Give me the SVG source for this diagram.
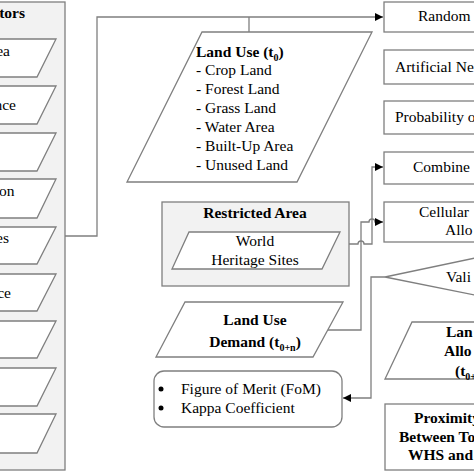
<svg xmlns="http://www.w3.org/2000/svg" width="474" height="474" viewBox="0 0 474 474">
<style>
.t{font-family:"Liberation Serif","Times New Roman",serif;font-size:15.5px;fill:#000}
.b{font-weight:bold}
.sub{font-size:10px}
.box{fill:#fff;stroke:#7f7f7f;stroke-width:1.3}
.panel{fill:#f2f2f2;stroke:#7f7f7f;stroke-width:1.3}
.c{fill:none;stroke:#7f7f7f;stroke-width:1.3}
</style>
<defs>
<marker id="ah" viewBox="0 0 10 10" refX="10" refY="5" markerWidth="8" markerHeight="8" markerUnits="userSpaceOnUse" orient="auto">
<path d="M0,0 L10,5 L0,10 z" fill="#000"/>
</marker>
</defs>

<g id="factors">
<rect class="panel" x="-10" y="2" width="75" height="468"/>
<text class="t b" x="25" y="18" text-anchor="end" font-size="16">tors</text>
<polygon class="box" points="-40,39 56,39 37,77 -60,77"/>
<text class="t" x="10" y="56" text-anchor="end">ea</text>
<polygon class="box" points="-40,86 56,86 37,124 -60,124"/>
<text class="t" x="16" y="110" text-anchor="end">nce</text>
<polygon class="box" points="-40,133 56,133 37,171 -60,171"/>
<polygon class="box" points="-40,179 56,179 37,218 -60,218"/>
<text class="t" x="14.5" y="196" text-anchor="end">on</text>
<polygon class="box" points="-40,227 56,227 37,264 -60,264"/>
<text class="t" x="9" y="243" text-anchor="end">es</text>
<polygon class="box" points="-40,274 56,274 37,311 -60,311"/>
<text class="t" x="11" y="298" text-anchor="end">ce</text>
<polygon class="box" points="-40,321 56,321 37,358 -60,358"/>
<polygon class="box" points="-40,368 56,368 37,406 -60,406"/>
<polygon class="box" points="-40,414 56,414 37,453 -60,453"/>
</g>

<g id="connectors">
<path class="c" d="M65,236 H97 V17 H383" marker-end="url(#ah)"/>
<path class="c" d="M249,17 V32"/>
<path class="c" d="M349,244 H358 A3,3 0 0 1 364,244 H372 V167 H383" marker-end="url(#ah)"/>
<path class="c" d="M328,330 H361 V222 H369 A3,3 0 0 1 375,222 H383" marker-end="url(#ah)"/>
<path class="c" d="M385,277 H371 V398 H343" marker-end="url(#ah)"/>
</g>

<g id="landuse">
<polygon class="box" points="202,32 372,32 297,182 127,182"/>
<text class="t b" x="196" y="57">Land Use (t<tspan class="sub" dy="4">0</tspan><tspan dy="-4">)</tspan></text>
<text class="t" x="196" y="75">- Crop Land</text>
<text class="t" x="196" y="94">- Forest Land</text>
<text class="t" x="196" y="113">- Grass Land</text>
<text class="t" x="196" y="132">- Water Area</text>
<text class="t" x="196" y="151">- Built-Up Area</text>
<text class="t" x="196" y="170">- Unused Land</text>
</g>

<g id="restricted">
<rect class="panel" x="162" y="202" width="187" height="84"/>
<text class="t b" x="255" y="218" text-anchor="middle">Restricted Area</text>
<polygon class="box" points="189,232 340,232 322,269 172,269"/>
<text class="t" x="255" y="246" text-anchor="middle">World</text>
<text class="t" x="255" y="265" text-anchor="middle">Heritage Sites</text>
</g>

<g id="demand">
<polygon class="box" points="185,302 343,302 313,357 156,357"/>
<text class="t b" x="255" y="325" text-anchor="middle">Land Use</text>
<text class="t b" x="255" y="347" text-anchor="middle">Demand (t<tspan class="sub" dy="4">0+n</tspan><tspan dy="-4">)</tspan></text>
</g>

<g id="metrics">
<rect class="box" x="154" y="371" width="188" height="56" rx="10"/>
<circle cx="161" cy="389" r="2.5" fill="#000"/>
<circle cx="161" cy="408" r="2.5" fill="#000"/>
<text class="t" x="181" y="394">Figure of Merit (FoM)</text>
<text class="t" x="181" y="413">Kappa Coefficient</text>
</g>

<g id="random">
<rect class="box" x="384" y="2" width="100" height="30"/>
<text class="t" x="418" y="21">Random</text>
</g>
<g id="ann">
<rect class="box" x="384" y="50" width="100" height="34"/>
<text class="t" x="395" y="72">Artificial Ne</text>
</g>
<g id="probability">
<rect class="box" x="384" y="101" width="100" height="33"/>
<text class="t" x="395" y="122">Probability o</text>
</g>
<g id="combine">
<rect class="box" x="384" y="152" width="100" height="32"/>
<text class="t" x="413" y="172">Combine</text>
</g>
<g id="cellular">
<rect class="box" x="384" y="202" width="100" height="40"/>
<text class="t" x="419" y="217">Cellular</text>
<text class="t" x="445" y="235">Allo</text>
</g>
<g id="validation">
<polygon class="box" points="385,277 480,257 480,296"/>
<text class="t" x="446" y="282">Vali</text>
</g>
<g id="allocation">
<polygon class="box" points="412,322 484,322 484,379 385,379"/>
<text class="t b" x="446" y="337">Lan</text>
<text class="t b" x="444" y="356">Allo</text>
<text class="t b" x="455" y="376">(t<tspan class="sub" dy="4">0+n</tspan></text>
</g>
<g id="proximity">
<rect class="box" x="385" y="404" width="100" height="66"/>
<text class="t b" x="414" y="423">Proximity</text>
<text class="t b" x="399" y="442">Between To</text>
<text class="t b" x="408" y="460">WHS and</text>
</g>
</svg>
